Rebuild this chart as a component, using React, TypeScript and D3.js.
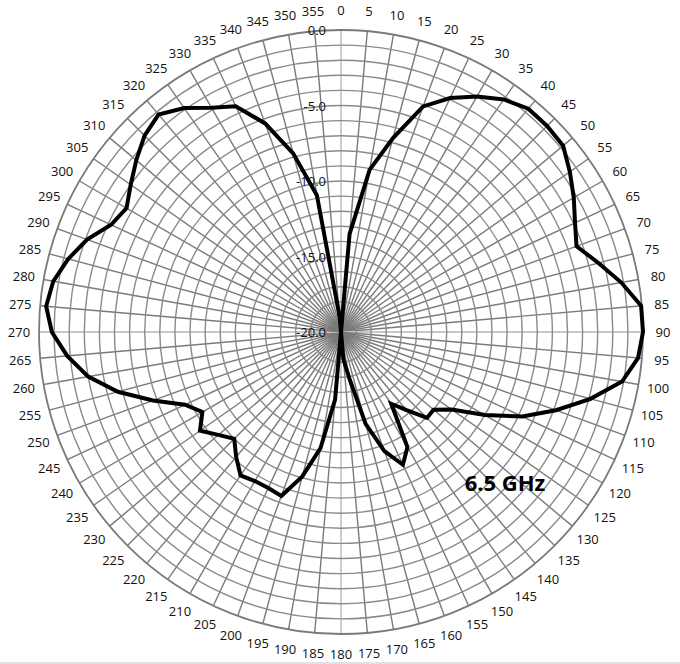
import * as d3 from 'd3';

const width: number = 680;
const height: number = 664;
const cx: number = 341;
const cy: number = 332;
const outerRadius: number = 302;

// Azimuth categories (degrees) and measured gain (dB) at 6.5 GHz
const angles: number[] = [
  0, 5, 10, 15, 20, 25, 30, 35, 40, 45, 50, 55, 60, 65, 70, 75, 80, 85,
  90, 95, 100, 105, 110, 115, 120, 125, 130, 135, 140, 145, 150, 155, 160, 165, 170, 175,
  180, 185, 190, 195, 200, 205, 210, 215, 220, 225, 230, 235, 240, 245, 250, 255, 260, 265,
  270, 275, 280, 285, 290, 295, 300, 305, 310, 315, 320, 325, 330, 335, 340, 345, 350, 355
];
const gain: number[] = [
  -20, -13.5, -9.1, -6.7, -4.1, -2.9, -2.0, -1.2, -0.7, -0.7, -0.8, -1.5, -2.2, -2.9, -3.4, -2.35, -1.15, -0.05,
  0, -0.25, -1.1, -2.9, -4.85, -6.75, -9.0, -11.05, -12.0, -11.95, -13.25, -14.2, -11.2, -10.3, -11.6, -13.7, -16.95, -18.2,
  -20, -15.5, -12.2, -10.1, -8.45, -8.6, -8.6, -8.4, -9.2, -10.0, -9.4, -8.6, -9.4, -8.6, -6.75, -4.7, -3.0, -1.8,
  -0.85, -0.4, -0.65, -1.3, -2.1, -3.2, -3.6, -3.0, -2.3, -1.6, -1.2, -1.9, -2.85, -3.5, -5.3, -7.75, -10.8, -19
];
const radialTicks: number[] = [-20, -15, -10, -5, 0];
const chartTitle: string = '6.5 GHz';

const labelFont = '"Open Sans", "Liberation Sans", sans-serif';

export default function App() {
  // radius scale: -20 dB at the centre, 0 dB on the outer ring
  const rScale = d3.scaleLinear().domain([-20, 0]).range([0, outerRadius]);
  const rings: number[] = rScale.ticks(20).filter((d: number) => d > -20);

  const toRad = (deg: number) => (deg * Math.PI) / 180;
  const px = (deg: number, r: number) => r * Math.sin(toRad(deg));
  const py = (deg: number, r: number) => -r * Math.cos(toRad(deg));

  const pattern = d3.lineRadial<number>()
    .angle((d: number, i: number) => toRad(angles[i]))
    .radius((d: number) => rScale(d))
    .curve(d3.curveLinearClosed);

  const cardinal = (a: number) => a % 90 === 0;

  return (
    <svg width={width} height={height} viewBox={`0 0 ${width} ${height}`}
      style={{ position: 'absolute', left: 0, top: 0, background: '#fff' }}>
      <g transform={`translate(${cx},${cy})`}>
        {/* spokes */}
        {angles.map((a: number) => (
          <line key={`s${a}`} x1={0} y1={0} x2={px(a, outerRadius)} y2={py(a, outerRadius)}
            stroke={cardinal(a) ? '#c8c8c8' : '#7a7a7a'} strokeWidth={cardinal(a) ? 1.8 : 1.4} />
        ))}
        {/* rings every 1 dB */}
        {rings.map((v: number) => (
          <circle key={`r${v}`} r={rScale(v)} fill="none"
            stroke={v === 0 ? '#7a7a7a' : '#8a8a8a'} strokeWidth={v === 0 ? 1.8 : 1.4} />
        ))}
        {/* angle labels */}
        {angles.map((a: number) => (
          <text key={`l${a}`} x={px(a, 322)} y={py(a, 322)} textAnchor="middle" dominantBaseline="central"
            fontFamily={labelFont} fontSize={13} fill="#111">{a}</text>
        ))}
        {/* radial labels */}
        {radialTicks.map((v: number) => (
          <text key={`t${v}`} x={-15} y={-rScale(v)} textAnchor="end" dominantBaseline="central"
            fontFamily={labelFont} fontSize={13} fill="#111">{v.toFixed(1)}</text>
        ))}
        {/* measured pattern */}
        <path d={pattern(gain) || ''} fill="none" stroke="#000" strokeWidth={4} strokeLinejoin="miter" />
      </g>
      <text x={505} y={491} textAnchor="middle" fontFamily={labelFont} fontWeight="bold"
        fontSize={22} fill="#000">{chartTitle}</text>
      <line x1={0} x2={width} y1={663} y2={663} stroke="#d9d9d9" strokeWidth={1.5} />
    </svg>
  );
}
